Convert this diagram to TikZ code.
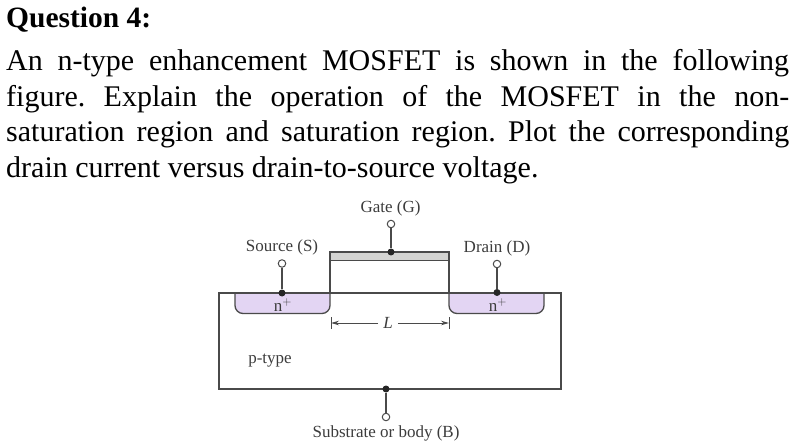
\documentclass[tikz,border=0pt]{standalone}
\usepackage{fontspec}
\setmainfont{Liberation Serif}
\usetikzlibrary{arrows.meta}
\definecolor{wire}{HTML}{4A4A4A}
\definecolor{labeltext}{HTML}{3C3C3C}
\definecolor{gategray}{HTML}{D4D4D2}
\definecolor{nregion}{HTML}{E3D5F3}
\tikzset{
  wireline/.style={draw=wire,line width=1.3pt},
  term/.style={circle,draw=wire,fill=white,line width=1pt,minimum size=7.5pt,inner sep=0pt},
  joint/.style={circle,fill=black!85,minimum size=7pt,inner sep=0pt},
  lab/.style={text=labeltext,font=\fontsize{17}{19}\selectfont,inner sep=0pt},
  dimline/.style={draw=wire,line width=0.9pt,-{Stealth[length=8pt,width=4.5pt]}},
  tick/.style={draw=wire,line width=0.9pt}
}
\begin{document}
\frenchspacing
\begin{tikzpicture}[x=1pt,y=-1pt]
\useasboundingbox (0,0) rectangle (792,446);
\node[anchor=base west,inner sep=0pt,font=\fontsize{29.5}{34}\selectfont\bfseries] (title) at (6,28) {Question 4:};
\node[anchor=north west,inner sep=0pt,text width=783pt,align=justify,font=\fontsize{30}{35.4}\selectfont] (body) at (6,49.5)
 {An n-type enhancement MOSFET is shown in the following\linebreak
 figure. Explain the operation of the MOSFET in the non-\linebreak
 saturation region and saturation region. Plot the corresponding\linebreak
 drain current versus drain-to-source voltage.};

% doped regions
\path[wireline,fill=nregion,rounded corners=8pt] (235,293) -- (235,313.5) -- (330,313.5) -- (330,293);
\path[wireline,fill=nregion,rounded corners=8pt] (449,293) -- (449,313.5) -- (544,313.5) -- (544,293);
% substrate
\coordinate (subTL) at (219,293);
\coordinate (subTR) at (561,293);
\coordinate (subBR) at (561,389);
\coordinate (subBL) at (219,389);
\draw[wireline] (subBL) -- (subTL) -- (subTR) -- (subBR) -- cycle;
% gate
\draw[wireline,fill=gategray] (330,252) rectangle (449,260.5);
\draw[wireline] (330,260.5) -- (330,293);
\draw[wireline] (449,260.5) -- (449,293);

% terminals
\node[joint] (sj) at (282,293) {};
\node[term] (st) at (282,263.5) {};
\node[joint] (gj) at (391,252) {};
\node[term] (gt) at (391,224) {};
\node[joint] (dj) at (497,292.5) {};
\node[term] (dt) at (497,264) {};
\node[joint] (bj) at (386,389) {};
\node[term] (bt) at (386,417) {};
\draw[wireline] (st) -- (sj);
\draw[wireline] (gt) -- (gj);
\draw[wireline] (dt) -- (dj);
\draw[wireline] (bj) -- (bt);

% labels
\node[lab] (gl) at (390.5,208.5) {Gate (G)};
\node[lab] (sl) at (282,247.5) {Source (S)};
\node[lab] (dl) at (497,248.5) {Drain (D)};
\node[lab] (sn) at (283,305) {n$^{+}$};
\node[lab] (dn) at (498,305) {n$^{+}$};
\node[lab] (pl) at (270,361) {p-type};
\node[lab] (bl) at (386,433) {Substrate or body (B)};

% L dimension
\coordinate (lA) at (331,323);
\coordinate (lB) at (449,323);
\node[lab,font=\fontsize{17}{19}\selectfont\itshape] (ll) at (388,323) {L};
\draw[tick] (331,317) -- (331,329);
\draw[tick] (449,317) -- (449,329);
\draw[dimline] (ll.west) ++(-5,0) -- (lA);
\draw[dimline] (ll.east) ++(5,0) -- (lB);
\end{tikzpicture}
\end{document}
